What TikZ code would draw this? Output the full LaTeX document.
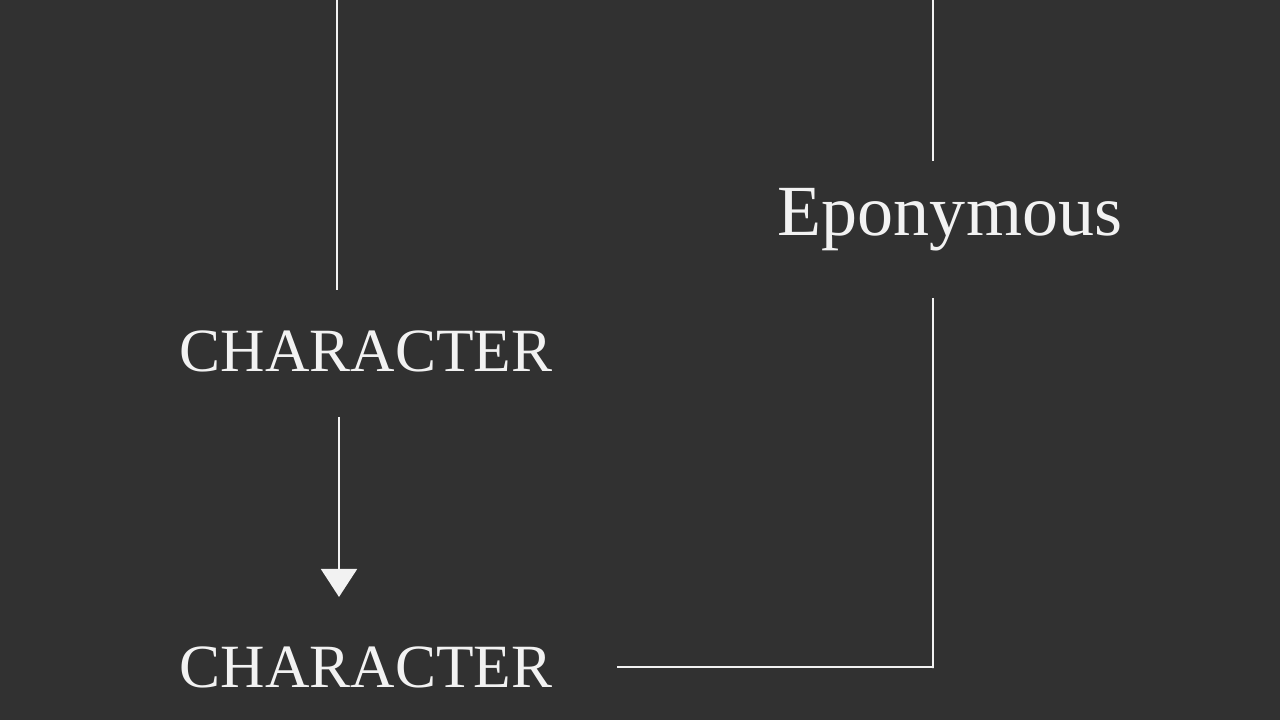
\documentclass[tikz,border=0pt]{standalone}
\usepackage{fontspec}
\setmainfont{Liberation Serif}
\usetikzlibrary{positioning,arrows.meta}
\definecolor{bgdark}{HTML}{313131}
\definecolor{inkwhite}{HTML}{F2F2F2}

\begin{document}
\begin{tikzpicture}[x=0.02cm,y=-0.02cm,>={Triangle[width=0.72cm,length=0.56cm]},
    charnode/.style={text=inkwhite,font=\fontsize{35}{40}\selectfont,anchor=base,inner xsep=1.28cm,inner ysep=0.9cm},
    eponode/.style={text=inkwhite,font=\fontsize{41}{46}\selectfont,anchor=base,inner xsep=0.3cm,inner ysep=0.52cm},
    wire/.style={draw=inkwhite,line width=1.15pt}]
        \useasboundingbox (0,0) rectangle (1280,720);
        \fill[bgdark] (0,0) rectangle (1280,720);
        \path
        % left column
        (366,371) node[charnode] (char1) {CHARACTER}
        (366,687) node[charnode] (char2) {CHARACTER}
        % right column
        (950,235) node[eponode]  (epo) {Eponymous};
        \coordinate (top1) at (337,0);
        \coordinate (top2) at (933,0);
        \coordinate (corner) at (933,668);

        \draw[wire,shorten >=-0.1cm] (top1) -- (top1 |- char1.north);
        \draw[wire,->,shorten >=0.08cm] ([xshift=-0.54cm]char1.south) -- ([xshift=-0.54cm]char2.north);

        \draw[wire] (top2) -- (top2 |- epo.north);
        \draw[wire,shorten <=0.42cm] (corner |- epo.south) -- (corner) -- (corner |- char2.east) -- (char2.east);
    \end{tikzpicture}
\end{document}
